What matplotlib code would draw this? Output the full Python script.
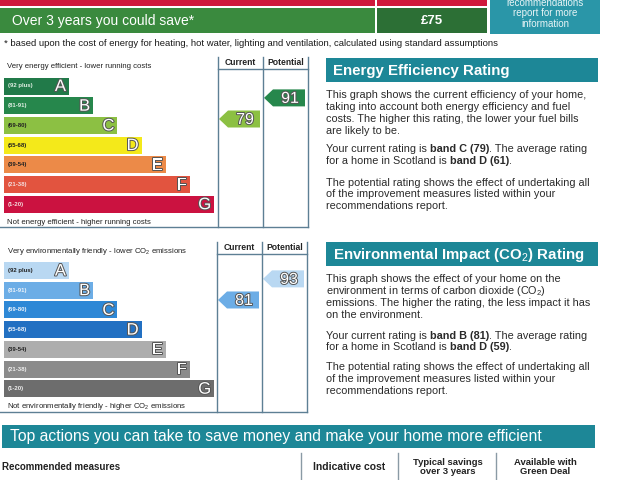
import numpy as np
import matplotlib
matplotlib.use("Agg")
import matplotlib.pyplot as plt
from matplotlib.patches import Rectangle, Polygon
import matplotlib.patheffects as pe

plt.rcParams['font.family'] = ['Liberation Sans', 'DejaVu Sans']
plt.rcParams['mathtext.fontset'] = 'custom'
plt.rcParams['mathtext.rm'] = 'Liberation Sans'

# --- data -------------------------------------------------------------
bands = ["A", "B", "C", "D", "E", "F", "G"]
band_ranges = ["(92 plus)", "(81-91)", "(69-80)", "(55-68)", "(39-54)", "(21-38)", "(1-20)"]
band_floor = [92, 81, 69, 55, 39, 21, 1]

energy_current = 79
energy_potential = 91
env_current = 81
env_potential = 93

saving_label = "Over 3 years you could save*"
saving_value = "£75"

energy_paras = [
    [[("This graph shows the current efficiency of your home,", False)],
     [("taking into account both energy efficiency and fuel", False)],
     [("costs. The higher this rating, the lower your fuel bills", False)],
     [("are likely to be.", False)]],
    [[("Your current rating is ", False), ("band C (79)", True), (". The average rating", False)],
     [("for a home in Scotland is ", False), ("band D (61)", True), (".", False)]],
    [[("The potential rating shows the effect of undertaking all", False)],
     [("of the improvement measures listed within your", False)],
     [("recommendations report.", False)]],
]
env_paras = [
    [[("This graph shows the effect of your home on the", False)],
     [("environment in terms of carbon dioxide (CO$_2$)", False)],
     [("emissions. The higher the rating, the less impact it has", False)],
     [("on the environment.", False)]],
    [[("Your current rating is ", False), ("band B (81)", True), (". The average rating", False)],
     [("for a home in Scotland is ", False), ("band D (59)", True), (".", False)]],
    [[("The potential rating shows the effect of undertaking all", False)],
     [("of the improvement measures listed within your", False)],
     [("recommendations report.", False)]],
]

# --- styles -----------------------------------------------------------
energy_colors = ['#217a49', '#26874c', '#8cc043', '#f4e91a', '#ec8a48', '#e2543f', '#cb1240']
env_colors = ['#b9d8f2', '#6cade6', '#2e88d6', '#2270c2', '#adadad', '#8b8b8b', '#6d6d6d']
energy_range_txt = ['#dfeee2', '#dfeee2', '#222222', '#222222', '#222222', '#f3dcdc', '#f3dcdc']
env_range_txt = ['#222222', '#eef4fb', '#eef4fb', '#eef4fb', '#222222', '#eeeeee', '#eeeeee']
TEAL = '#1d8797'
LINE = '#5d7f94'
BODY = '#2a2a2a'

fig = plt.figure(figsize=(6.4, 4.8), dpi=100)
ax = fig.add_axes([0, 0, 1, 1])
ax.set_xlim(0, 640)
ax.set_ylim(480, 0)
ax.axis('off')
renderer = fig.canvas.get_renderer()

outline = [pe.withStroke(linewidth=1.4, foreground='#555555')]


def band_of(r):
    for i, lo in enumerate(band_floor):
        if r >= lo:
            return i
    return len(band_floor) - 1


def rating_row(r):
    # position of a rating arrow on the band scale
    return (100 - r) / 11.2 - 0.2


def write_runs(x, y, runs, size, color=BODY):
    for s, bold in runs:
        t = ax.text(x, y, s, fontsize=size, color=color, va='baseline',
                    fontweight='bold' if bold else 'normal')
        x += t.get_window_extent(renderer=renderer).width


def rating_chart(top, colors, range_colors, current, potential, head, foot, cols):
    pitch = 19.7
    rows = top + pitch * np.arange(len(bands))
    widths = 65 + 24.2 * np.arange(len(bands))
    ax.barh(rows, widths, left=4, height=17, color=colors, edgecolor='none')
    for y, w, b, rng, tc in zip(rows, widths, bands, band_ranges, range_colors):
        ax.text(8, y, rng, fontsize=4.3, fontweight='bold', color=tc, va='center')
        ax.text(4 + w - 3, y + 0.5, b, fontsize=12, color='white', ha='right',
                va='center', path_effects=outline)
    ax.text(7, top - 19, head, fontsize=5.6, color='#222222', va='center')
    ax.text(7, rows[-1] + 18, foot, fontsize=5.6, color='#222222', va='center')
    c0, c1, c2 = cols
    y_top, y_bot = top - 29, rows[-1] + 23
    for cx in cols:
        ax.plot([cx, cx], [y_top, y_bot], color=LINE, lw=1)
    ax.plot([c0, c2], [top - 17, top - 17], color=LINE, lw=1)
    ax.plot([0, c2], [y_bot, y_bot], color=LINE, lw=1)
    ax.text((c0 + c1) / 2, top - 23.5, "Current", fontsize=6.2, fontweight='bold',
            color='#222222', ha='center', va='center')
    ax.text((c1 + c2) / 2, top - 23.5, "Potential", fontsize=6.2, fontweight='bold',
            color='#222222', ha='center', va='center')
    for val, cx in ((current, c0), (potential, c1)):
        yc = top + pitch * rating_row(val)
        x0, x1, h = cx + 1, cx + 42, 17
        poly = Polygon([(x0, yc), (x0 + 9, yc - h / 2), (x1, yc - h / 2),
                        (x1, yc + h / 2), (x0 + 9, yc + h / 2)],
                       closed=True, facecolor=colors[band_of(val)], edgecolor='none')
        ax.add_patch(poly)
        ax.text((x0 + 9 + x1) / 2 + 1, yc + 0.5, str(val), fontsize=11.5, color='white',
                ha='center', va='center', path_effects=outline)


def info_panel(top, title, paras, line_pos):
    ax.add_patch(Rectangle((326, top), 272, 24, facecolor=TEAL, edgecolor='none'))
    ax.text(333, top + 12.5, title, fontsize=10.8, fontweight='bold', color='white',
            va='center')
    k = 0
    for para in paras:
        for line in para:
            write_runs(326, line_pos[k] + 3.8, line, 7.8)
            k += 1


# --- top savings strip -----------------------------------------------
ax.add_patch(Rectangle((0, -2), 375, 8, facecolor='#cf1a3c', edgecolor='none'))
ax.add_patch(Rectangle((377, -2), 110, 8, facecolor='#cf1a3c', edgecolor='none'))
ax.add_patch(Rectangle((0, 8), 375, 25, facecolor='#3a8a3e', edgecolor='none'))
ax.add_patch(Rectangle((377, 8), 110, 25, facecolor='#2c6f35', edgecolor='none'))
ax.add_patch(Rectangle((490, -2), 110, 36, facecolor='#2a96a8', edgecolor='none'))
ax.text(12, 21, saving_label, fontsize=10, color='white', va='center')
ax.text(432, 21, saving_value, fontsize=9.5, fontweight='bold', color='white',
        ha='center', va='center')
for yy, s in ((3, "recommendations"), (13.5, "report for more"), (24, "information")):
    ax.text(545, yy, s, fontsize=7, color='#e8f4f6', ha='center', va='center')
ax.text(4, 44, "* based upon the cost of energy for heating, hot water, lighting and "
        "ventilation, calculated using standard assumptions",
        fontsize=6.8, color='#1a1a1a', va='center')

# --- rating charts ----------------------------------------------------
rating_chart(86, energy_colors, energy_range_txt, energy_current, energy_potential,
             "Very energy efficient - lower running costs",
             "Not energy efficient - higher running costs", (218, 263, 308))
rating_chart(270.5, env_colors, env_range_txt, env_current, env_potential,
             "Very environmentally friendly - lower CO$_2$ emissions",
             "Not environmentally friendly - higher CO$_2$ emissions", (217, 262, 307))

info_panel(58, "Energy Efficiency Rating", energy_paras,
           [94, 106, 118, 130, 148, 160, 182, 193.5, 205])
info_panel(242, "Environmental Impact (CO$_2$) Rating", env_paras,
           [278, 290, 302, 314, 335, 346.5, 366, 378, 390])

# --- top actions ------------------------------------------------------
ax.add_patch(Rectangle((2, 425), 593, 23, facecolor=TEAL, edgecolor='none'))
ax.text(10, 436.5, "Top actions you can take to save money and make your home more efficient",
        fontsize=11.3, color='white', va='center')
for cx in (301, 398, 496):
    ax.plot([cx, cx], [453, 482], color='#8a9aa5', lw=1)
ax.text(2, 467, "Recommended measures", fontsize=7, fontweight='bold', color='#222222',
        va='center')
ax.text(349, 467, "Indicative cost", fontsize=7.5, fontweight='bold', color='#222222',
        ha='center', va='center')
ax.text(448, 467, "Typical savings\nover 3 years", fontsize=6.8, fontweight='bold',
        color='#222222', ha='center', va='center', linespacing=1.0)
ax.text(545, 467, "Available with\nGreen Deal", fontsize=6.8, fontweight='bold',
        color='#222222', ha='center', va='center', linespacing=1.0)

fig.savefig("out.png", dpi=100)
